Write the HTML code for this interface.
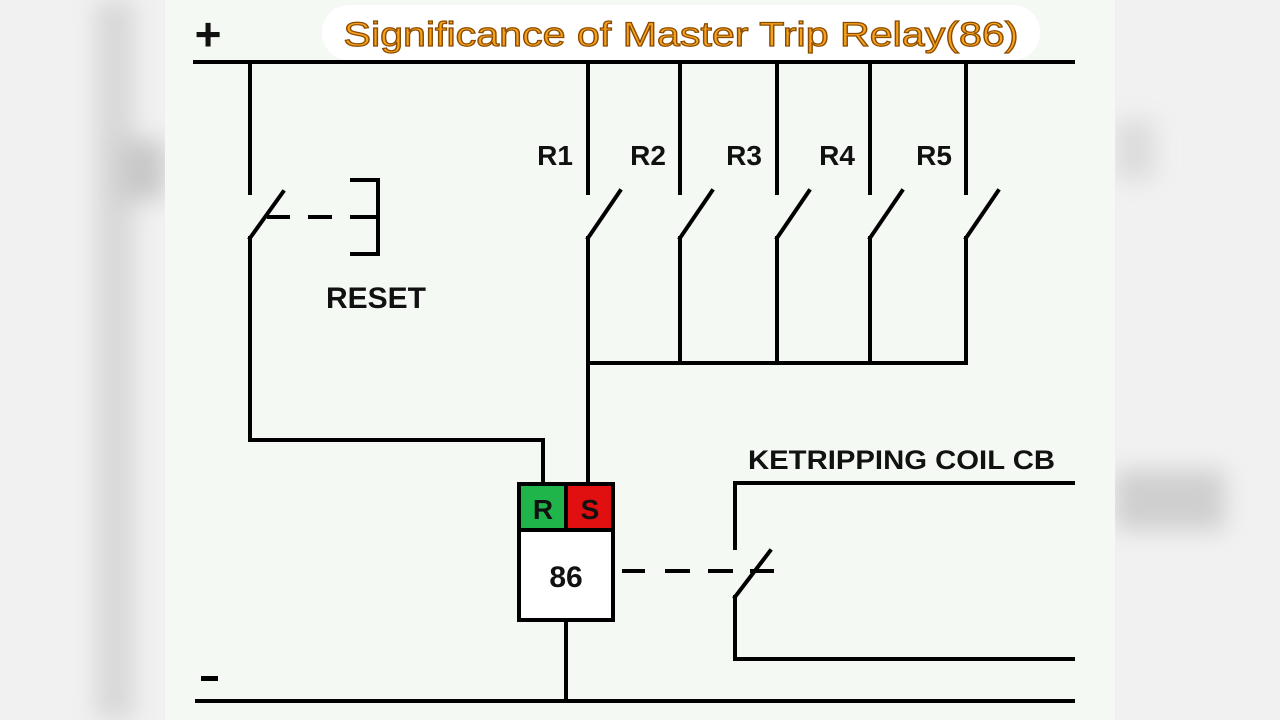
<!DOCTYPE html>
<html><head><meta charset="utf-8"><style>
html,body{margin:0;padding:0;width:1280px;height:720px;overflow:hidden;background:#efefef;}
</style></head><body>
<svg width="1280" height="720" xmlns="http://www.w3.org/2000/svg" style="display:block">
<defs>
<filter id="b"><feGaussianBlur stdDeviation="12"/></filter>
</defs>
<rect width="1280" height="720" fill="#f1f1f1"/>
<g filter="url(#b)">
<rect x="95" y="0" width="40" height="720" fill="#d8d8d8"/>
<rect x="120" y="140" width="45" height="60" fill="#c8c8c8"/>
<rect x="1115" y="120" width="40" height="60" fill="#dcdcdc"/>
<rect x="1115" y="470" width="110" height="60" fill="#cfcfcf"/>
</g>
<rect x="165" y="0" width="950" height="720" fill="#f5f9f4"/>
<rect x="322" y="5" width="718" height="55" rx="27" fill="#ffffff"/>
<text x="681" y="46" text-anchor="middle" font-family="Liberation Sans, sans-serif" font-size="34" fill="#f7a21b" stroke="#8a4a00" stroke-width="1.2" textLength="675" lengthAdjust="spacingAndGlyphs">Significance of Master Trip Relay(86)</text>
<g stroke="#000" stroke-width="4" fill="none" stroke-linecap="square">
<line x1="195" y1="62" x2="1073" y2="62"/>
<line x1="197" y1="701" x2="1073" y2="701"/>
<!-- reset -->
<polyline points="250,62 250,193"/>
<line x1="250" y1="238" x2="283" y2="192"/>
<polyline points="250,238 250,440 543,440 543,483"/>
<line x1="269" y1="217" x2="288" y2="217"/>
<line x1="310" y1="217" x2="330" y2="217"/>
<polyline points="352,180 378,180 378,254 352,254"/>
<line x1="352" y1="217" x2="378" y2="217"/>
<!-- R switches -->
<line x1="588" y1="62" x2="588" y2="193"/><line x1="588" y1="238" x2="620" y2="191"/>
<line x1="680" y1="62" x2="680" y2="193"/><line x1="680" y1="238" x2="712" y2="191"/>
<line x1="777" y1="62" x2="777" y2="193"/><line x1="777" y1="238" x2="809" y2="191"/>
<line x1="870" y1="62" x2="870" y2="193"/><line x1="870" y1="238" x2="902" y2="191"/>
<line x1="966" y1="62" x2="966" y2="193"/><line x1="966" y1="238" x2="998" y2="191"/>
<line x1="680" y1="238" x2="680" y2="363"/>
<line x1="777" y1="238" x2="777" y2="363"/>
<line x1="870" y1="238" x2="870" y2="363"/>
<line x1="966" y1="238" x2="966" y2="363"/>
<line x1="588" y1="238" x2="588" y2="483"/>
<line x1="588" y1="363" x2="966" y2="363"/>
<!-- bottom -->
<line x1="566" y1="620" x2="566" y2="701"/>
<line x1="624" y1="571" x2="643" y2="571"/>
<line x1="667" y1="571" x2="688" y2="571"/>
<line x1="710" y1="571" x2="731" y2="571"/>
<polyline points="735,548 735,483 1073,483"/>
<line x1="735" y1="597" x2="770" y2="551"/>
<line x1="752" y1="571" x2="772" y2="571"/>
<polyline points="735,597 735,659 1073,659"/>
</g>
<rect x="520" y="485" width="46" height="45" fill="#1fb54a"/>
<rect x="566" y="485" width="46" height="45" fill="#e01010"/>
<rect x="520" y="530" width="92" height="89" fill="#ffffff"/>
<g stroke="#000" stroke-width="4" fill="none">
<rect x="519" y="484" width="94" height="136"/>
<line x1="519" y1="530" x2="613" y2="530"/>
<line x1="566" y1="484" x2="566" y2="530"/>
</g>
<g font-family="Liberation Sans, sans-serif" font-weight="bold" fill="#111">
<text x="543" y="519" text-anchor="middle" font-size="28">R</text>
<text x="590" y="519" text-anchor="middle" font-size="28">S</text>
<text x="566" y="587" text-anchor="middle" font-size="30">86</text>
<text x="376" y="308" text-anchor="middle" font-size="30" textLength="100" lengthAdjust="spacingAndGlyphs">RESET</text>
<text x="555" y="165" text-anchor="middle" font-size="28">R1</text>
<text x="648" y="165" text-anchor="middle" font-size="28">R2</text>
<text x="744" y="165" text-anchor="middle" font-size="28">R3</text>
<text x="837" y="165" text-anchor="middle" font-size="28">R4</text>
<text x="934" y="165" text-anchor="middle" font-size="28">R5</text>
<text x="748" y="469" font-size="27" textLength="307" lengthAdjust="spacingAndGlyphs">KETRIPPING COIL CB</text>
<text x="208" y="50" text-anchor="middle" font-size="46">+</text>
</g>
<rect x="201" y="676" width="17" height="5" fill="#000"/>
</svg>
</body></html>
